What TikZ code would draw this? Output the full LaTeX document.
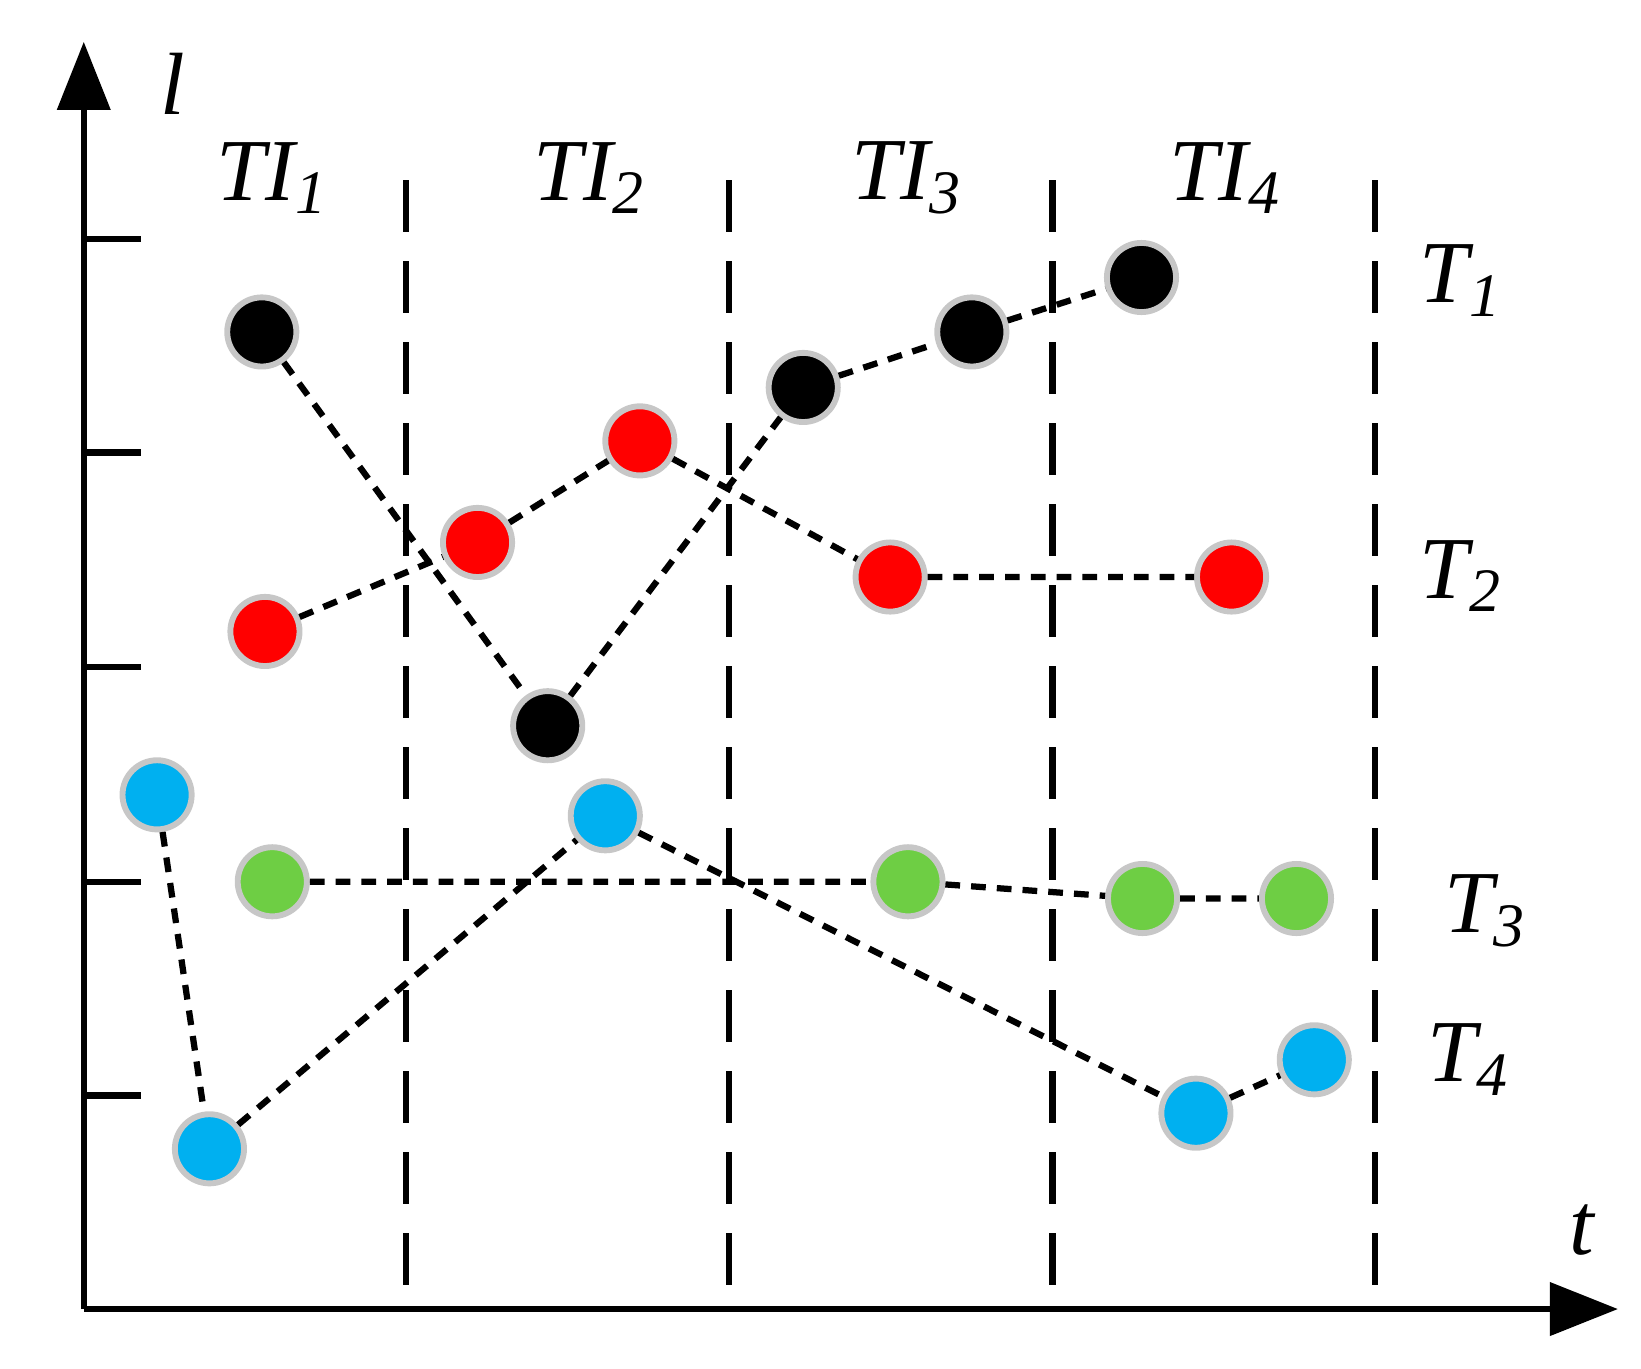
\documentclass[tikz,border=0pt]{standalone}
\usepackage{fontspec}
\setmainfont{Liberation Serif}
\usetikzlibrary{arrows.meta}
\definecolor{ptred}{RGB}{255,0,0}
\definecolor{ptgreen}{RGB}{110,206,68}
\definecolor{ptblue}{RGB}{0,176,240}
\begin{document}
\begin{tikzpicture}[x=0.01cm,y=-0.01cm,
    dot/.style={circle,minimum size=0.66cm,inner sep=0pt,draw=black!22,line width=1.6pt,fill=#1},
    link/.style={dash pattern=on 4pt off 3pt,line width=1.7pt},
    lab/.style={font=\fontsize{24}{26}\selectfont\itshape}]
    \useasboundingbox (0,0) rectangle (1567,1307);
    % axes
    \draw [line width=1.7pt,-{Triangle[length=0.65cm,width=0.5cm]}] (80,1250) -- (80,40);
    \draw [line width=1.7pt,-{Triangle[length=0.65cm,width=0.5cm]}] (80,1250) -- (1545,1250);
    \node [lab] (ylab) at (165,80) {l};
    \node [lab] (xlab) at (1510,1175) {t};
    \foreach \y in {228,432,637,842,1046}
        \draw [line width=1.7pt] (80,\y) -- (135,\y);
    % intervals
    \foreach \x in {388,696,1005,1313}
        \draw [line width=1.7pt,dash pattern=on 14pt off 8pt] (\x,172) -- (\x,1250);
    \foreach \x/\i in {260/1,563/2,866/3,1170/4}
        \node [lab] (ti\i) at (\x,170) {TI\textsubscript{\i}};
    \node [lab] (tone) at (1395,268) {T\textsubscript{1}};
    \node [lab] (ttwo) at (1395,550) {T\textsubscript{2}};
    \node [lab] (tthree) at (1418,870) {T\textsubscript{3}};
    \node [lab] (tfour) at (1402,1012) {T\textsubscript{4}};
    % tracks
    \node [dot=black] (a1) at (250,317) {};
    \node [dot=black] (a2) at (523,693) {};
    \node [dot=black] (a3) at (767,370) {};
    \node [dot=black] (a4) at (928,317) {};
    \node [dot=black] (a5) at (1090,265) {};
    \node [dot=ptred] (b1) at (253,603) {};
    \node [dot=ptred] (b2) at (456,518) {};
    \node [dot=ptred] (b3) at (611,421) {};
    \node [dot=ptred] (b4) at (850,551) {};
    \node [dot=ptred] (b5) at (1176,551) {};
    \node [dot=ptgreen] (c1) at (260,842) {};
    \node [dot=ptgreen] (c2) at (867,842) {};
    \node [dot=ptgreen] (c3) at (1091,858) {};
    \node [dot=ptgreen] (c4) at (1238,858) {};
    \node [dot=ptblue] (d1) at (150,759) {};
    \node [dot=ptblue] (d2) at (200,1097) {};
    \node [dot=ptblue] (d3) at (578,779) {};
    \node [dot=ptblue] (d4) at (1142,1063) {};
    \node [dot=ptblue] (d5) at (1255,1012) {};
    \draw [link] (a1) -- (a2) -- (a3) -- (a4) -- (a5);
    \draw [link] (b1) -- (b2) -- (b3) -- (b4) -- (b5);
    \draw [link] (c1) -- (c2) -- (c3) -- (c4);
    \draw [link] (d1) -- (d2) -- (d3) -- (d4) -- (d5);
\end{tikzpicture}
\end{document}
